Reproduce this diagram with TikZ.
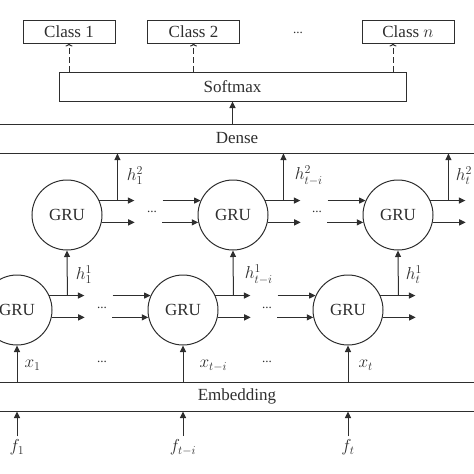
\documentclass[tikz,border=0pt]{standalone}
\usepackage{fontspec}
\setmainfont{Liberation Serif}
\usetikzlibrary{arrows.meta,calc}
\begin{document}
\begin{tikzpicture}[x=1pt, y=-1pt, line width=1pt, color=black!82,
    font=\fontsize{17}{20}\selectfont,
    arr/.style={-{Triangle[length=6.5pt,width=6pt]}},
    darr/.style={dash pattern=on 6pt off 3pt, -{To[length=3pt,width=7pt]}},
    box/.style={draw, rectangle, inner sep=0pt, minimum height=23pt, minimum width=92pt},
    band/.style={draw, rectangle, inner sep=0pt, minimum height=29pt, minimum width=500pt},
    gru/.style={draw, circle, inner sep=0pt, minimum size=70pt},
    hdots/.style={font=\fontsize{13}{14}\selectfont, inner sep=0pt}]
    \useasboundingbox (0,0) rectangle (474,474);

    % 出力クラス
    \node[box] (c1) at (69,31.5) {Class 1};
    \node[box] (c2) at (193.5,31.5) {Class 2};
    \node[box] (cn) at (408,31.5) {Class $n$};
    \node[hdots] (cdots) at (298,33) {...};

    % Softmax と Dense
    \node[draw, rectangle, inner sep=0pt, minimum height=29pt, minimum width=347pt] (soft) at (232.5,86.5) {Softmax};
    \node[band] (dense) at (237,138.5) {Dense};
    \node[band] (emb) at (237,396.5) {Embedding};

    \coordinate (cn-in) at ($(cn.south)+(-15,0)$);
    \draw[darr] (soft.north -| c1) -- (c1.south);
    \draw[darr] (soft.north -| c2) -- (c2.south);
    \draw[darr] (cn-in |- soft.north) -- (cn-in);
    \draw[arr] (dense.north -| soft) -- (soft.south);

    % GRU
    \foreach \g/\cx/\cy in {u1/67/215, u2/233/215, u3/398/215, l1/17/310, l2/183/310, l3/348/310}
        \node[gru] (\g) at (\cx,\cy) {GRU};

    % 出力の矢印
    \foreach \g in {u1,u2,u3,l1,l2,l3} {
        \coordinate (\g-h) at ($(\g.24)+(18,0)$);
        \draw[arr] (\g.24) -- ($(\g.24)+(35,0)$);
        \draw[arr] (\g.-12) -- ($(\g.-12)+(33,0)$);
    }
    \foreach \g in {u2,u3,l2,l3} {
        \draw[arr] ($(\g.156)+(-38,0)$) -- (\g.156);
        \draw[arr] ($(\g.192)+(-36,0)$) -- (\g.192);
    }

    % 隠れ状態
    \foreach \g in {u1,u2,u3}
        \draw[arr] (\g-h) -- (\g-h |- dense.south);
    \draw[arr] (l1-h) -- (u1.south);
    \draw[arr] (l2-h) -- (u2.south);
    \draw[arr] (l3-h) -- (u3.south);

    \node[anchor=west, inner sep=1pt] (h12) at ($(u1-h)+(8,-25)$) {$h^2_1$};
    \node[anchor=west, inner sep=1pt] (h22) at ($(u2-h)+(10,-25)$) {$h^2_{t-i}$};
    \node[anchor=west, inner sep=1pt] (h32) at ($(u3-h)+(6,-25)$) {$h^2_t$};
    \node[anchor=west, inner sep=1pt] (h11) at ($(l1-h)+(7,-21)$) {$h^1_1$};
    \node[anchor=west, inner sep=1pt] (h21) at ($(l2-h)+(10,-21)$) {$h^1_{t-i}$};
    \node[anchor=west, inner sep=1pt] (h31) at ($(l3-h)+(6,-21)$) {$h^1_t$};

    \foreach \p in {(152,212), (317,212), (102,308), (267,308), (102,362), (267,362)}
        \node[hdots] at \p {...};

    % 入力
    \foreach \g/\xl/\fl/\dx in {l1/x_1/f_1/6, l2/x_{t-i}/f_{t-i}/15, l3/x_t/f_t/9} {
        \draw[arr] (emb.north -| \g) -- (\g.south);
        \node[anchor=west, inner sep=1pt] (\g-x) at ($(emb.north -| \g)+(\dx,-16)$) {$\xl$};
        \node[inner sep=3pt] (\g-f) at ($(emb.south -| \g)+(0,36)$) {$\fl$};
        \draw[arr] (\g-f.north) -- (\g-f |- emb.south);
    }
\end{tikzpicture}
\end{document}
